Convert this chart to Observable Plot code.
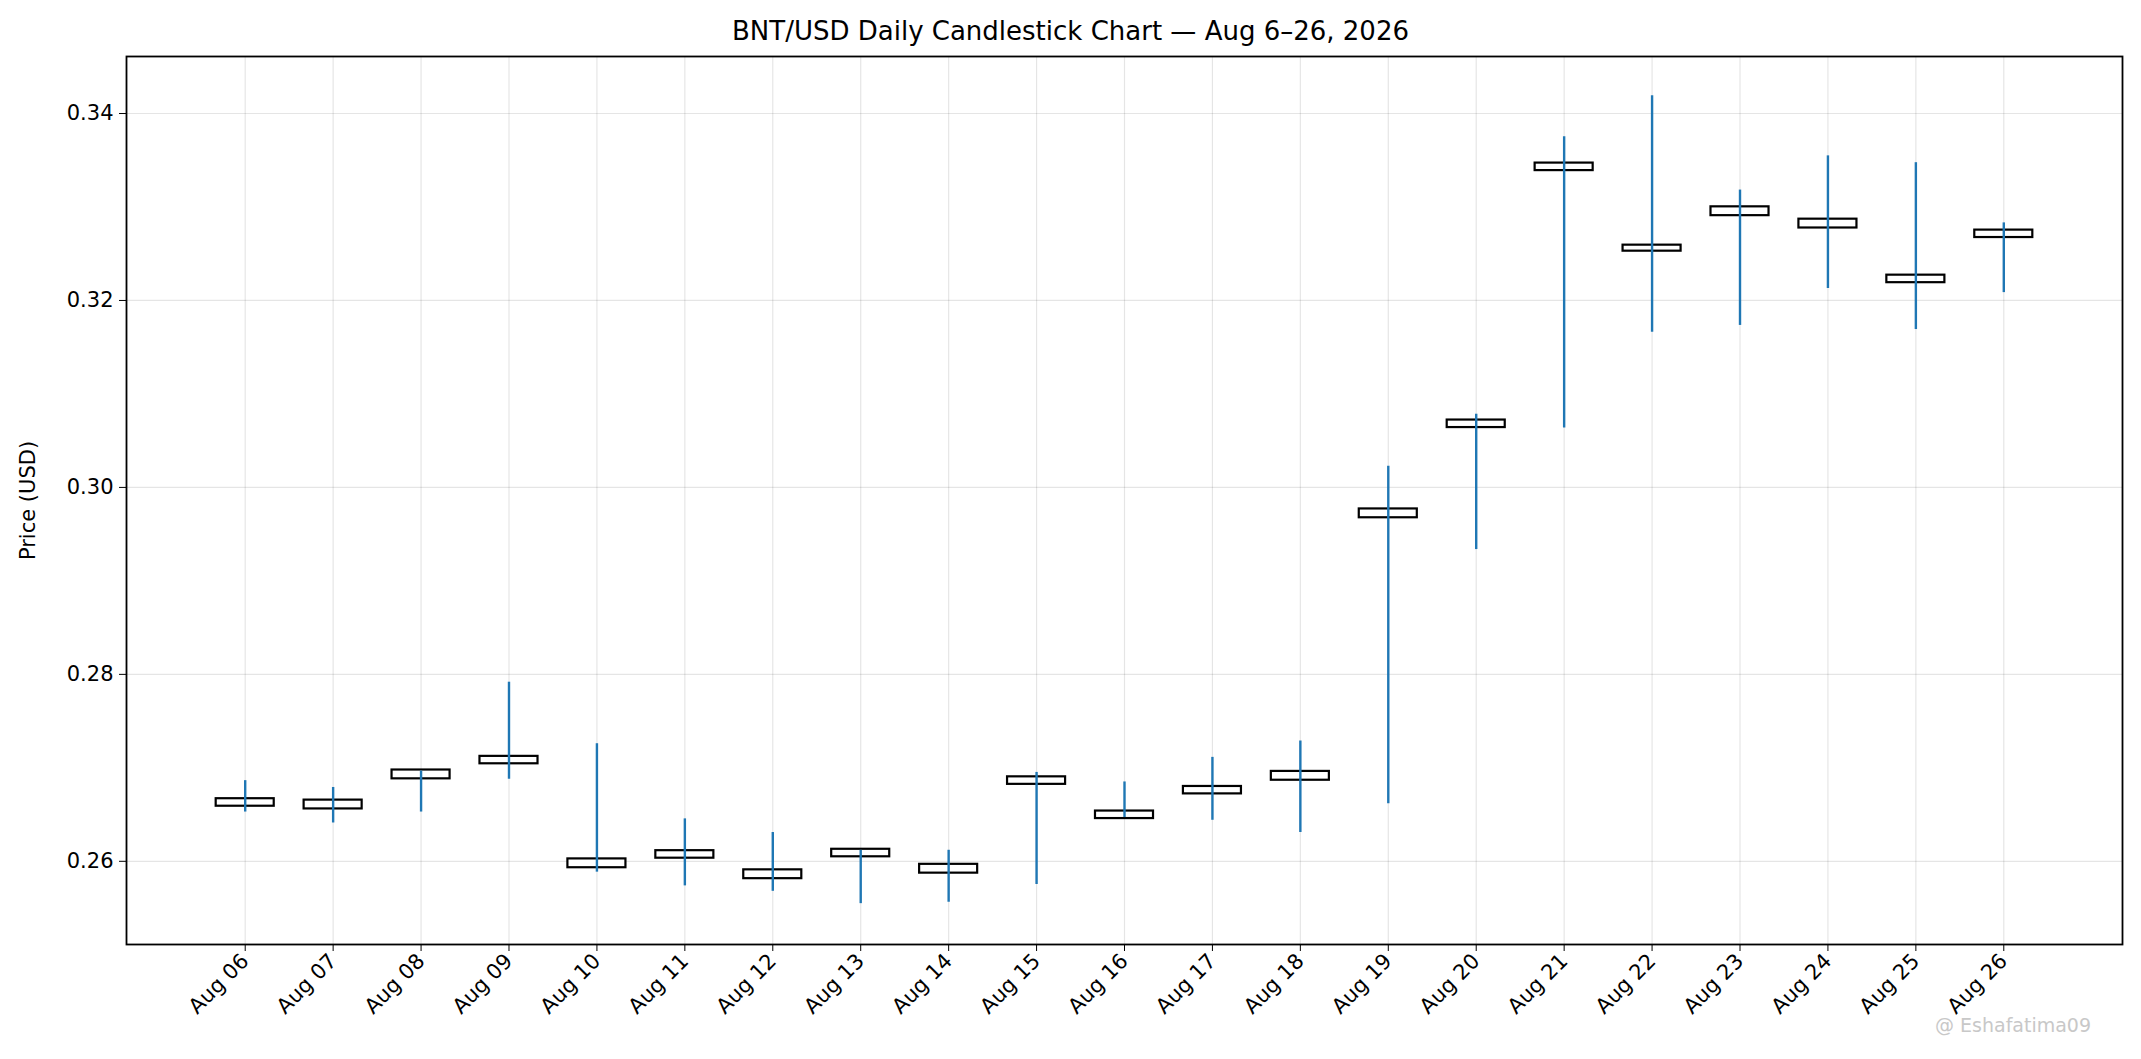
<!DOCTYPE html>
<html><head><meta charset="utf-8">
<script src="https://cdn.jsdelivr.net/npm/d3@7"></script>
<script src="https://cdn.jsdelivr.net/npm/@observablehq/plot@0.6"></script>
<style>
body{margin:0;background:#fff;font-family:"DejaVu Sans",sans-serif;}
#title{height:54px;line-height:62px;text-align:center;font-size:26px;color:#000;}
#wrap{position:relative;}
#wm{position:absolute;left:1935px;top:960px;font-size:19px;color:#c8c8c8;}
</style></head><body>
<div id="title">BNT/USD Daily Candlestick Chart — Aug 6–26, 2026</div>
<div id="wrap"><div id="chart"></div><div id="wm">@ Eshafatima09</div></div>
<script>
const dates = ["Aug 06","Aug 07","Aug 08","Aug 09","Aug 10","Aug 11","Aug 12","Aug 13","Aug 14","Aug 15","Aug 16","Aug 17","Aug 18","Aug 19","Aug 20","Aug 21","Aug 22","Aug 23","Aug 24","Aug 25","Aug 26"];
const open  = [0.26600,0.26571,0.26893,0.27054,0.26015,0.26044,0.25825,0.26059,0.25884,0.26834,0.26527,0.26732,0.26878,0.29686,0.30651,0.33400,0.32581,0.32918,0.32786,0.32260,0.32684];
const close = [0.26659,0.26644,0.26966,0.27112,0.25942,0.26103,0.25898,0.26118,0.25957,0.26893,0.26468,0.26790,0.26951,0.29759,0.30710,0.33459,0.32538,0.32991,0.32859,0.32201,0.32742];
const high  = [0.26863,0.26790,0.26966,0.27916,0.27258,0.26454,0.26308,0.26118,0.26118,0.26951,0.26849,0.27112,0.27287,0.30227,0.30783,0.33751,0.34190,0.33181,0.33547,0.33474,0.32830];
const low   = [0.26527,0.26410,0.26527,0.26878,0.25884,0.25737,0.25679,0.25547,0.25562,0.25752,0.26468,0.26439,0.26308,0.26615,0.29335,0.30636,0.31660,0.31733,0.32128,0.31689,0.32084];
const yTicks = [0.26,0.28,0.30,0.32,0.34];
const data = dates.map((d,i)=>({i,date:d,open:open[i],close:close[i],high:high[i],low:low[i]}));
const chart = Plot.plot({
  width:2141, height:1003,
  marginTop:2, marginBottom:113, marginLeft:126, marginRight:19,
  style:{fontFamily:"DejaVu Sans, sans-serif", fontSize:"21px", color:"#000", background:"#fff"},
  x:{type:"linear", domain:[-1.35,21.35], label:null},
  y:{domain:[0.2511,0.3461], label:null},
  marks:[
    Plot.gridX(d3.range(dates.length),{stroke:"#000",strokeOpacity:0.1,strokeWidth:1.2}),
    Plot.gridY(yTicks,{stroke:"#000",strokeOpacity:0.1,strokeWidth:1.2}),
    Plot.rect(data,{x1:d=>d.i-0.33,x2:d=>d.i+0.33,y1:"open",y2:"close",fill:"#fff",stroke:"#000",strokeWidth:2.2,insetTop:-1,insetBottom:-1}),
    Plot.ruleX(data,{x:"i",y1:"low",y2:"high",stroke:"#1f77b4",strokeWidth:2.4}),
    Plot.axisX({ticks:d3.range(dates.length),tickFormat:i=>dates[i],tickRotate:-45,tickSize:7,tickPadding:6,textAnchor:"end",label:null}),
    Plot.axisY({ticks:yTicks,tickFormat:d3.format(".2f"),tickSize:7,tickPadding:6,label:"Price (USD)",labelAnchor:"center",labelArrow:"none",labelOffset:106}),
    Plot.frame({stroke:"#000",strokeWidth:1.8})
  ]
});
document.getElementById("chart").appendChild(chart);
</script></body></html>
